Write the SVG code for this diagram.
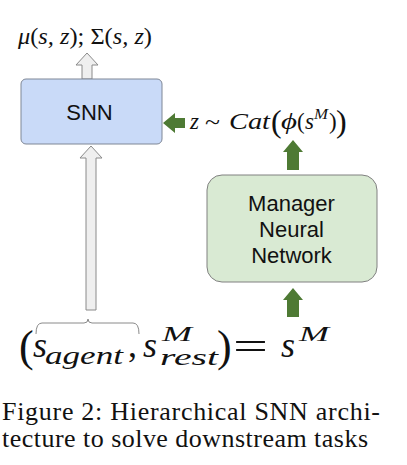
<svg xmlns="http://www.w3.org/2000/svg" width="407" height="465" viewBox="0 0 407 465">
<defs>
<style>
.math{font-family:"Liberation Serif","DejaVu Serif",serif;font-style:italic;fill:#111}
.up{font-family:"Liberation Serif","DejaVu Serif",serif;font-style:normal;fill:#111}
.lbl{font-family:"Liberation Sans",Arial,sans-serif;fill:#111;text-anchor:middle;font-size:22px}
.cap{font-family:"Liberation Serif","Times New Roman",serif;fill:#111;font-size:26px}
.garrow{fill:#efefef;stroke:#8a8a8a;stroke-width:1}
.greenarrow{fill:#4e7a34;stroke:none}
</style>
</defs>
<rect width="407" height="465" fill="#ffffff"/>
<g id="connectors">
<polygon class="garrow" points="82,79 82,65 76,65 87,53 98,65 92,65 92,79"/>
<polygon class="garrow" points="86,310 86,158 80,158 91,146 102,158 96,158 96,310"/>
<polygon class="greenarrow" points="185,118 175,118 175,113 163,123 175,133 175,128 185,128"/>
<polygon class="greenarrow" points="287,170 287,152 283,152 293,140 303,152 299,152 299,170"/>
<polygon class="greenarrow" points="287,317 287,300 283,300 293,288 303,300 299,300 299,317"/>
<path d="M36,334 Q36,323 42,323 L84,323 Q88,323 88,319 Q88,323 92,323 L133,323 Q139,323 139,334" fill="none" stroke="#8a8a8a" stroke-width="1"/>
</g>
<g id="snn">
<rect x="21" y="79" width="141" height="65" rx="5" fill="#c9daf8" stroke="#7f8796" stroke-width="1"/>
<text class="lbl" x="89.5" y="120">SNN</text>
</g>
<g id="manager">
<rect x="207" y="175" width="170" height="107" rx="15" fill="#d9ead3" stroke="#808080" stroke-width="1"/>
<text class="lbl" x="291.5" y="211">Manager</text>
<text class="lbl" x="291.5" y="237">Neural</text>
<text class="lbl" x="291.5" y="263">Network</text>
</g>
<g id="output-label">
<text class="math" x="18" y="44" font-size="23" textLength="134" lengthAdjust="spacingAndGlyphs">μ<tspan class="up">(</tspan>s, z<tspan class="up">); Σ(</tspan>s, z<tspan class="up">)</tspan></text>
</g>
<g id="z-label">
<text class="math" x="190" y="129" font-size="23">z</text>
<text class="up" x="205" y="129" font-size="22" textLength="15" lengthAdjust="spacingAndGlyphs">~</text>
<text class="math" x="229" y="129" font-size="24" textLength="41" lengthAdjust="spacingAndGlyphs">Cat</text>
<text class="up" x="271" y="132" font-size="32">(</text>
<text class="math" x="281" y="129" font-size="24" textLength="16" lengthAdjust="spacingAndGlyphs">ϕ</text>
<text class="up" x="297" y="129" font-size="23">(</text>
<text class="math" x="305" y="129" font-size="23">s</text>
<text class="math" x="314" y="119" font-size="15" textLength="14" lengthAdjust="spacingAndGlyphs">M</text>
<text class="up" x="329" y="129" font-size="23">)</text>
<text class="up" x="336" y="132" font-size="32">)</text>
</g>
<g id="state-formula">
<text class="up" x="19" y="361" font-size="44">(</text>
<text class="math" x="33" y="357" font-size="36">s</text>
<text class="math" x="45" y="364" font-size="25" textLength="78" lengthAdjust="spacingAndGlyphs">agent</text>
<text class="up" x="128" y="357" font-size="36">,</text>
<text class="math" x="143" y="357" font-size="36">s</text>
<text class="math" x="162" y="341" font-size="20" textLength="30" lengthAdjust="spacingAndGlyphs">M</text>
<text class="math" x="160" y="365" font-size="24" textLength="58" lengthAdjust="spacingAndGlyphs">rest</text>
<text class="up" x="217" y="361" font-size="44">)</text>
<text class="up" x="233" y="360" font-size="40" textLength="35" lengthAdjust="spacingAndGlyphs">=</text>
<text class="math" x="281" y="357" font-size="36">s</text>
<text class="math" x="299" y="341" font-size="20" textLength="30" lengthAdjust="spacingAndGlyphs">M</text>
</g>
<g id="caption">
<text class="cap" x="2" y="420" textLength="378" lengthAdjust="spacing">Figure 2:  Hierarchical SNN archi-</text>
<text class="cap" x="2" y="447" textLength="366" lengthAdjust="spacing">tecture to solve downstream tasks</text>
</g>
</svg>
